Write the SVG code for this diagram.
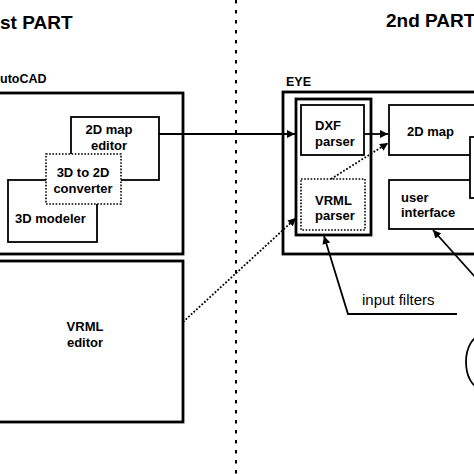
<svg xmlns="http://www.w3.org/2000/svg" width="474" height="474" viewBox="0 0 474 474">
<defs>
<style>
text{font-family:"Liberation Sans",Arial,sans-serif;fill:#000}
.b{font-weight:bold;font-size:13px}
.h{font-weight:bold;font-size:19px}
.lb{font-weight:bold;font-size:12.5px}
.thick{fill:#fff;stroke:#000;stroke-width:2.8}
.box{fill:#fff;stroke:#000;stroke-width:1.8}
.dot{fill:#fff;stroke:#000;stroke-width:1.6;stroke-dasharray:1.6 1.6}
.ln{fill:none;stroke:#000;stroke-width:1.8}
.dl{fill:none;stroke:#000;stroke-width:1.8;stroke-dasharray:1.8 1.8}
</style>
<marker id="ah" viewBox="0 0 10 10" refX="10" refY="5" markerWidth="8" markerHeight="8" markerUnits="userSpaceOnUse" orient="auto">
<path d="M0,0 L10,5 L0,10 z" fill="#000"/>
</marker>
</defs>
<rect width="474" height="474" fill="#fff"/>
<line x1="236" y1="0" x2="236" y2="474" stroke="#000" stroke-width="2" stroke-dasharray="3.5 6.5"/>
<text class="h" x="0" y="29">st PART</text>
<text class="h" x="386" y="27">2nd PART</text>
<g id="autocad">
<text class="lb" x="0" y="83">utoCAD</text>
<rect class="thick" x="-10" y="93" width="193" height="161"/>
</g>
<g id="editor2d">
<rect class="box" x="71" y="117" width="88" height="63"/>
<text class="b" x="109" y="134" text-anchor="middle">2D map</text>
<text class="b" x="109" y="150" text-anchor="middle">editor</text>
</g>
<g id="modeler3d">
<rect class="box" x="8" y="180" width="89" height="62"/>
<text class="b" x="15" y="223">3D modeler</text>
</g>
<g id="converter">
<rect class="dot" x="46" y="154" width="75" height="50"/>
<text class="b" x="83" y="177" text-anchor="middle">3D to 2D</text>
<text class="b" x="83" y="193" text-anchor="middle">converter</text>
</g>
<g id="vrmleditor">
<rect class="thick" x="-10" y="261" width="193" height="161"/>
<text class="b" x="85" y="331" text-anchor="middle">VRML</text>
<text class="b" x="85" y="347" text-anchor="middle">editor</text>
</g>
<g id="eye">
<text class="lb" x="286" y="86">EYE</text>
<rect class="thick" x="283" y="92" width="200" height="162"/>
</g>
<g id="inputfilters">
<rect class="thick" x="296" y="99" width="75" height="136"/>
<text x="362" y="305" font-size="15">input filters</text>
</g>
<g id="dxfparser">
<rect class="box" x="301" y="105" width="63" height="50"/>
<text class="b" x="315" y="130">DXF</text>
<text class="b" x="315" y="146">parser</text>
</g>
<g id="vrmlparser">
<rect class="dot" x="301" y="179" width="64" height="51"/>
<text class="b" x="315" y="205">VRML</text>
<text class="b" x="315" y="220">parser</text>
</g>
<g id="map2d">
<rect class="box" x="389" y="105" width="95" height="50"/>
<text class="b" x="407" y="136">2D map</text>
</g>
<g id="userinterface">
<rect class="box" x="389" y="180" width="95" height="49"/>
<text class="b" x="401" y="202">user</text>
<text class="b" x="401" y="217">interface</text>
</g>
<g id="rightbox">
<rect class="box" x="470" y="137" width="20" height="61"/>
</g>
<g id="ellipse">
<ellipse cx="481" cy="362" rx="15" ry="26" fill="none" stroke="#000" stroke-width="1.8"/>
</g>
<g id="connectors">
<line class="ln" x1="159" y1="134" x2="295" y2="134" marker-end="url(#ah)"/>
<line class="ln" x1="364" y1="134" x2="388" y2="134" marker-end="url(#ah)"/>
<line class="dl" x1="331" y1="179" x2="388" y2="143" marker-end="url(#ah)"/>
<line class="dl" x1="183" y1="322" x2="296" y2="218" marker-end="url(#ah)"/>
<polyline class="ln" points="457,314 348,314 324,236" marker-end="url(#ah)"/>
<line class="ln" x1="476" y1="278" x2="433" y2="230" marker-end="url(#ah)"/>
</g>
</svg>
